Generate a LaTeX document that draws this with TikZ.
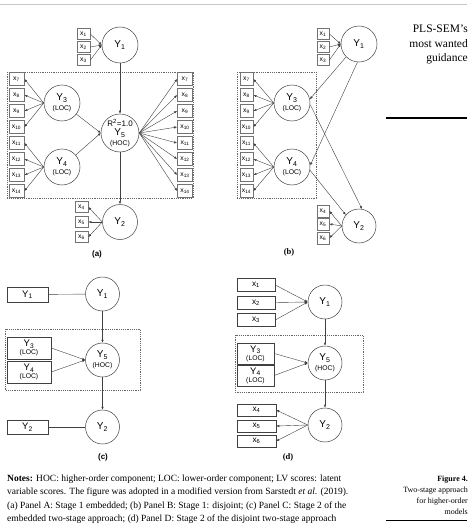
\documentclass[tikz,border=0pt]{standalone}
\usepackage{fontspec}
\setmainfont{Liberation Serif}
\setsansfont{Liberation Sans}
\usetikzlibrary{arrows.meta,positioning}

\newcommand{\ix}[1]{\textsubscript{#1}}
\newcommand{\role}[1]{{\fontsize{6.8}{7}\selectfont(#1)}}

\tikzset{
  lv/.style={circle,draw=black!75,line width=0.5pt,minimum size=36pt,inner sep=0pt,
    align=center,font=\sffamily\fontsize{10}{9.5}\selectfont},
  mv/.style={rectangle,draw=black!55,line width=0.8pt,minimum width=14pt,minimum height=12pt,
    inner sep=0pt,font=\sffamily\fontsize{6.8}{6.8}\selectfont},
  score/.style={rectangle,draw=black!75,line width=0.5pt,minimum width=40pt,minimum height=14pt,
    inner sep=0pt,align=center,font=\sffamily\fontsize{9.5}{9}\selectfont},
  link/.style={draw=black!75,line width=0.4pt,-{Latex[length=3pt,width=2.4pt]}},
  plain/.style={draw=black!75,line width=0.4pt},
  stagebox/.style={draw=black!60,line width=0.5pt,dash pattern=on 1.2pt off 1pt},
  panel/.style={font=\bfseries\fontsize{8.5}{8.5}\selectfont},
}

\begin{document}
\begin{tikzpicture}[x=1pt,y=-1pt]
\useasboundingbox (0,0) rectangle (474,524);
\draw[gray!45,line width=1pt] (0,5) -- (467,5);

% header
\node[anchor=north east,align=right,inner sep=0pt,font=\fontsize{11.5}{14.5}\selectfont]
  (head) at (468,25) {PLS-SEM's\\most wanted\\guidance};
\draw[line width=1.5pt] (386,118) -- (467,118);

% panel (a)
\draw[stagebox] (7,72) rectangle (193,198);
\node[lv] (a-y1) at (120,45) {Y\ix{1}};
\node[lv,minimum size=38pt] (a-y5) at (120,133)
  {{\fontsize{8}{8}\selectfont R\textsuperscript{2}=1.0}\\Y\ix{5}\\\role{HOC}};
\node[lv] (a-y3) at (62,103) {Y\ix{3}\\\role{LOC}};
\node[lv] (a-y4) at (62,167) {Y\ix{4}\\\role{LOC}};
\node[lv,minimum size=35pt] (a-y2) at (120,222) {Y\ix{2}};
\foreach \i/\y in {1/34,2/47,3/60}
  \node[mv,minimum width=13pt,minimum height=11pt] (a-x\i) at (83.5,\y) {x\ix{\i}};
\foreach \i/\y in {4/207,5/222,6/237}
  \node[mv,minimum width=13pt,minimum height=11pt] (a-x\i) at (81.5,\y) {x\ix{\i}};
\foreach \i [evaluate=\i as \yy using 79+16*(\i-7)] in {7,...,14} {
  \node[mv,minimum width=15pt,minimum height=13pt] (a-l\i) at (16.5,\yy) {x\ix{\i}};
  \node[mv,minimum width=15pt,minimum height=13pt] (a-r\i) at (185,\yy) {x\ix{\i}};
}
\foreach \i in {1,2,3} \draw[link] (a-x\i.east) -- (a-y1.west);
\foreach \i in {4,5,6} \draw[link] (a-y2.west) -- (a-x\i.east);
\foreach \i in {7,...,10} \draw[link] (a-y3.west) -- (a-l\i.east);
\foreach \i in {11,...,14} \draw[link] (a-y4.west) -- (a-l\i.east);
\foreach \i in {7,...,14} \draw[link] (a-y5.east) -- (a-r\i.west);
\draw[link] (a-y1) -- (a-y5);
\draw[link] (a-y3) -- (a-y5.west);
\draw[link] (a-y4) -- (a-y5.west);
\draw[link] (a-y5) -- (a-y2);
\node[panel,font=\sffamily\bfseries\fontsize{8}{8}\selectfont] (a-tag) at (97,254) {(a)};

% panel (b)
\draw[stagebox] (237,72) rectangle (316,198);
\node[lv] (b-y1) at (359,44) {Y\ix{1}};
\node[lv] (b-y3) at (292,103) {Y\ix{3}\\\role{LOC}};
\node[lv] (b-y4) at (292,167) {Y\ix{4}\\\role{LOC}};
\node[lv,minimum size=34pt] (b-y2) at (359,226) {Y\ix{2}};
\foreach \i/\y in {1/34,2/47,3/60}
  \node[mv,minimum width=12pt,minimum height=11pt] (b-x\i) at (323,\y) {x\ix{\i}};
\foreach \i/\y in {4/211,5/224,6/238}
  \node[mv,minimum width=12pt,minimum height=12pt] (b-x\i) at (323,\y) {x\ix{\i}};
\foreach \i [evaluate=\i as \yy using 79+16*(\i-7)] in {7,...,14}
  \node[mv,minimum width=13pt,minimum height=13pt] (b-l\i) at (246.5,\yy) {x\ix{\i}};
\foreach \i in {1,2,3} \draw[link] (b-x\i.east) -- (b-y1.west);
\foreach \i in {4,5,6} \draw[link] (b-y2.west) -- (b-x\i.east);
\foreach \i in {7,...,10} \draw[link] (b-y3.west) -- (b-l\i.east);
\foreach \i in {11,...,14} \draw[link] (b-y4.west) -- (b-l\i.east);
\draw[link] (b-y1.225) -- (b-y3.12);
\draw[link] (b-y1.265) -- (b-y4.5);
\draw[link] (b-y3.-5) -- (b-y2.80);
\draw[link] (b-y4.-10) -- (b-y2.140);
\node[panel] (b-tag) at (289,252) {(b)};

% panel (c)
\draw[stagebox] (5,329) rectangle (140,390);
\node[score,minimum width=41pt,minimum height=15pt] (c-s1) at (27.5,294.5) {Y\ix{1}};
\node[lv,minimum size=34pt] (c-y1) at (102.5,294) {Y\ix{1}};
\node[score,minimum width=44pt,minimum height=22pt,font=\sffamily\fontsize{9.5}{8}\selectfont]
  (c-s3) at (29,348) {Y\ix{3}\\\role{LOC}};
\node[score,minimum width=44pt,minimum height=22pt,font=\sffamily\fontsize{9.5}{8}\selectfont]
  (c-s4) at (29,372) {Y\ix{4}\\\role{LOC}};
\node[lv,minimum size=34pt] (c-y5) at (102.5,360) {Y\ix{5}\\\role{HOC}};
\node[lv,minimum size=34pt] (c-y2) at (102.5,427) {Y\ix{2}};
\node[score,minimum width=41pt,minimum height=14pt] (c-s2) at (27.5,427) {Y\ix{2}};
\draw[plain] (c-s1) -- (c-y1);
\draw[plain] (c-s2) -- (c-y2);
\draw[link] (c-y1) -- (c-y5);
\draw[link] (c-s3.east) -- (c-y5.west);
\draw[link] (c-s4.east) -- (c-y5.west);
\draw[link] (c-y5) -- (c-y2);
\node[panel,font=\sffamily\bfseries\fontsize{8}{8}\selectfont] (c-tag) at (103,457) {(c)};

% panel (d)
\draw[stagebox] (235,335) rectangle (363,392);
\foreach \i/\y in {1/285,2/302.5,3/320}
  \node[score,minimum width=38pt,minimum height=13pt,font=\sffamily\fontsize{8.3}{8}\selectfont]
    (d-x\i) at (256,\y) {x\ix{\i}};
\node[lv,minimum size=34pt] (d-y1) at (325,302) {Y\ix{1}};
\node[score,minimum width=37pt,minimum height=21pt,font=\sffamily\fontsize{9.5}{8}\selectfont]
  (d-s3) at (255.5,353.5) {Y\ix{3}\\\role{LOC}};
\node[score,minimum width=37pt,minimum height=21pt,font=\sffamily\fontsize{9.5}{8}\selectfont]
  (d-s4) at (255.5,375.5) {Y\ix{4}\\\role{LOC}};
\node[lv,minimum size=34pt] (d-y5) at (325,363) {Y\ix{5}\\\role{HOC}};
\node[lv,minimum size=34pt] (d-y2) at (325,425) {Y\ix{2}};
\foreach \i/\y in {4/410,5/426,6/441}
  \node[score,minimum width=39pt,minimum height=12pt,font=\sffamily\fontsize{8.3}{8}\selectfont]
    (d-x\i) at (256.5,\y) {x\ix{\i}};
\foreach \i in {1,2,3} \draw[link] (d-x\i.east) -- (d-y1.west);
\foreach \i in {4,5,6} \draw[link] (d-y2.west) -- (d-x\i.east);
\draw[link] (d-y1) -- (d-y5);
\draw[link] (d-s3.east) -- (d-y5.west);
\draw[link] (d-s4.east) -- (d-y5.west);
\draw[link] (d-y5) -- (d-y2);
\node[panel] (d-tag) at (288,457) {(d)};

% notes and caption
\node[anchor=north west,align=left,inner sep=0pt,font=\fontsize{9.5}{13.2}\selectfont]
  (notes) at (7,475) {\textbf{Notes:} HOC: higher-order component; LOC: lower-order component; LV scores: latent\\
  variable scores. The figure was adopted in a modified version from Sarstedt \textit{et al.} (2019).\\
  (a) Panel A: Stage 1 embedded; (b) Panel B: Stage 1: disjoint; (c) Panel C: Stage 2 of the\\
  embedded two-stage approach; (d) Panel D: Stage 2 of the disjoint two-stage approach};
\node[anchor=north east,align=right,inner sep=0pt,font=\fontsize{8}{11}\selectfont]
  (caption) at (468,476) {\textbf{Figure 4.}\\Two-stage approach\\for higher-order\\models};
\draw[line width=1pt] (386,520.5) -- (467,520.5);
\end{tikzpicture}
\end{document}
